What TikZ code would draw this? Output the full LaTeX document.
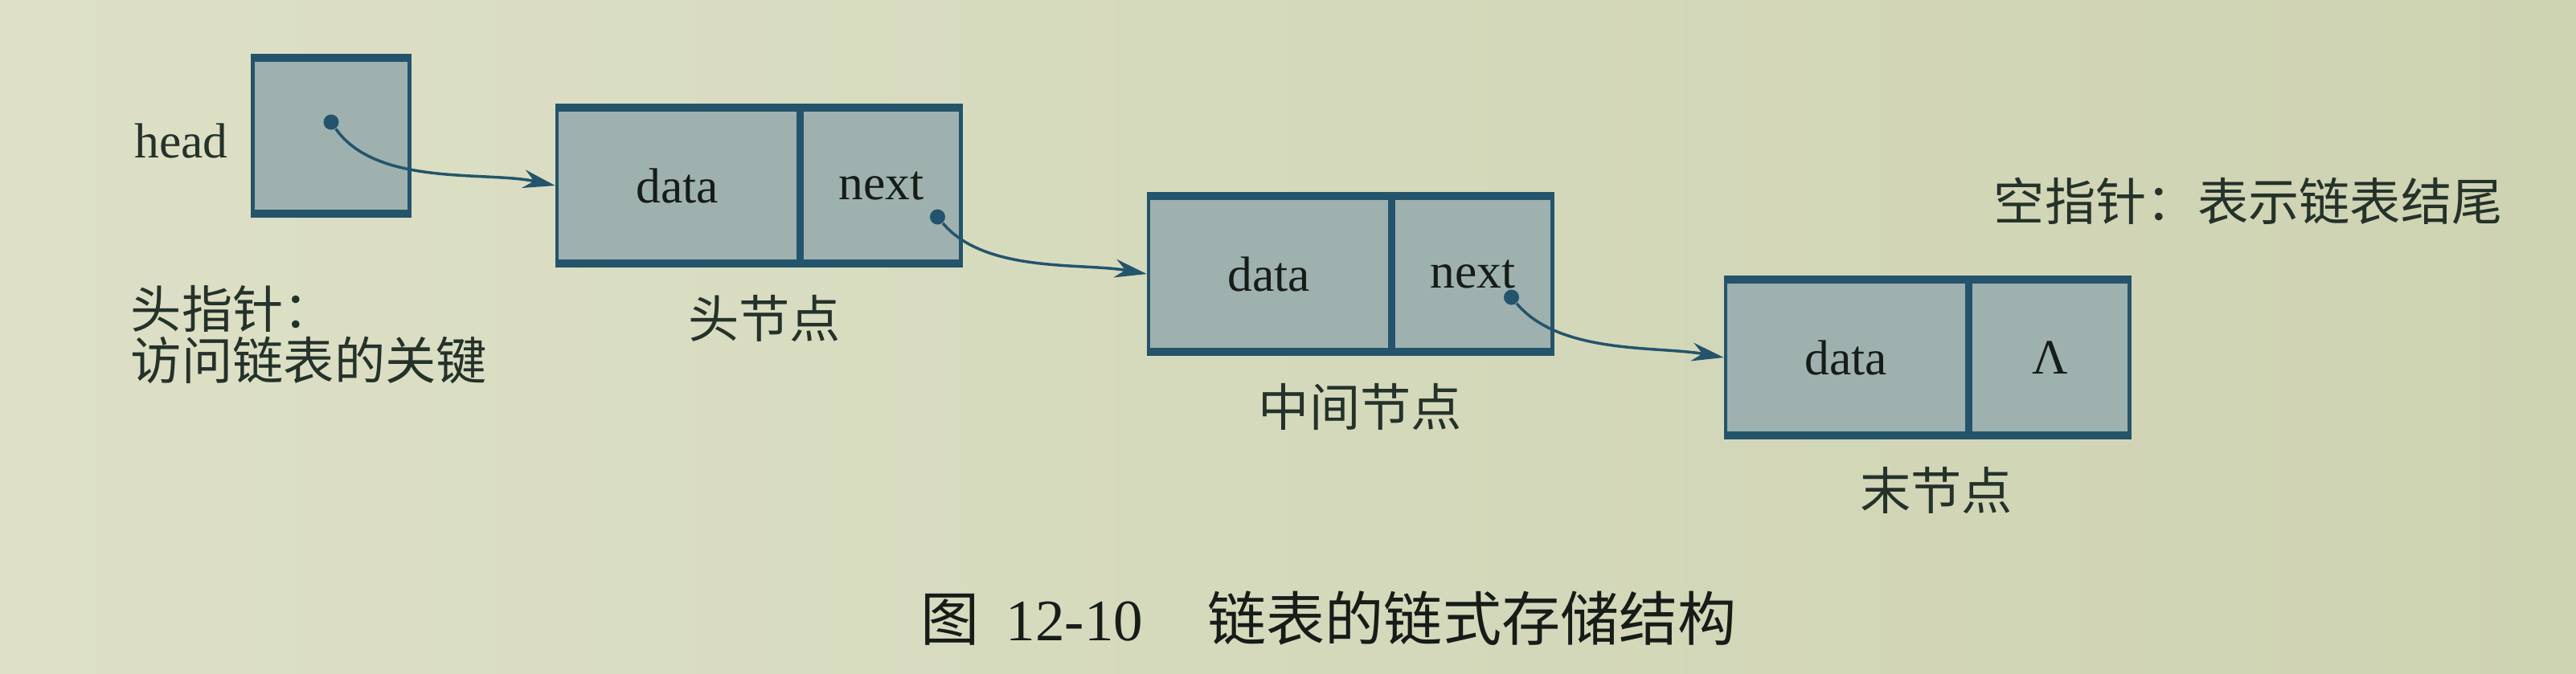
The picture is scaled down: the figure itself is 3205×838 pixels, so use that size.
\documentclass[tikz,border=0pt]{standalone}
\usepackage{fontspec}
\setmainfont{Liberation Serif}
\newfontfamily\cjk{Noto Sans CJK SC}
\usepackage{xcolor}
\usepackage{tikz}
\usetikzlibrary{positioning,arrows.meta}

\definecolor{paperleft}{RGB}{221,224,198}
\definecolor{paperright}{RGB}{206,211,178}
\definecolor{cellfill}{RGB}{158,177,175}
\definecolor{cellline}{RGB}{36,84,108}
\definecolor{ink}{RGB}{22,28,24}
\definecolor{labelink}{RGB}{36,50,42}

\newcommand{\latinfont}{\fontsize{17.5}{21}\selectfont}
\newcommand{\cjklabel}{\cjk\fontsize{18}{18.2}\selectfont}
\newcommand{\capfont}{\fontsize{20.8}{25}\selectfont}

\tikzset{
  cell/.style={draw=cellline, line width=0.45mm, fill=cellfill, minimum height=19mm,
    inner sep=0pt, text=ink, font=\latinfont},
  datacell/.style={cell, minimum width=30mm},
  ptrcell/.style={cell, minimum width=19.8mm},
  rim/.style={cellline, line width=1mm},
  ptr/.style={circle, fill=cellline, inner sep=0pt, minimum size=1.9mm},
  link/.style={-{Stealth[length=4mm, width=2.3mm, inset=1.3mm]}, cellline, line width=0.35mm},
  tag/.style={font=\cjklabel, text=labelink, inner sep=0pt}
}

\begin{document}
\begin{tikzpicture}[x=0.1mm, y=0.1mm]
    \shade [left color=paperleft, right color=paperright] (0,0) rectangle (3205,-838);
    \useasboundingbox (0,0) rectangle (3205,-838);

    % head pointer
    \node [cell, minimum width=19.5mm] (hbox) at (412,-169) {};
    \node [tag, font=\latinfont, left=2.8mm of hbox, yshift=-0.6mm] (headtxt) {head};
    \node [ptr] (hdot) at ([yshift=1.7mm]hbox.center) {};
    \node [tag, align=left, anchor=west] (headnote) at ([xshift=-15mm, yshift=-15mm]hbox.south west)
        {头指针：\\访问链表的关键};

    % first node
    \node [datacell] (n1d) at (843,-231) {data};
    \node [ptrcell, right=0pt of n1d] (n1n) {next};
    \node [ptr] (p1) at ([xshift=7mm, yshift=-3.9mm]n1n.center) {};
    \node [tag, below=3.8mm of n1d.south east, xshift=-4.4mm] (lab1) {头节点};

    % middle node
    \node [datacell] (n2d) at (1579,-341) {data};
    \node [ptrcell, right=0pt of n2d] (n2n) {next};
    \node [ptr] (p2) at ([xshift=4.8mm, yshift=-2.9mm]n2n.center) {};
    \node [tag, below=3.8mm of n2d.south east, xshift=-3.9mm] (lab2) {中间节点};

    % last node
    \node [datacell] (n3d) at (2297,-445) {data};
    \node [ptrcell, right=0pt of n3d] (n3n) {Λ};
    \node [tag, below=3.8mm of n3d.south east, xshift=-4mm] (lab3) {末节点};
    \node [tag, anchor=west] (nulltxt) at ([xshift=3.1mm, yshift=9.7mm]n3n.north west) {空指针：表示链表结尾};

    % thick rims
    \draw [rim] (hbox.north west) -- (hbox.north east);
    \draw [rim] (hbox.south west) -- (hbox.south east);
    \draw [rim] (n1d.north west) -- (n1n.north east);
    \draw [rim] (n1d.south west) -- (n1n.south east);
    \draw [rim] (n2d.north west) -- (n2n.north east);
    \draw [rim] (n2d.south west) -- (n2n.south east);
    \draw [rim] (n3d.north west) -- (n3n.north east);
    \draw [rim] (n3d.south west) -- (n3n.south east);

    % links
    \draw [link] (hdot) to [out=-55, in=168, looseness=0.8] (n1d.west);
    \draw [link] (p1) to [out=-50, in=170, looseness=0.8] (n2d.west);
    \draw [link] (p2) to [out=-50, in=170, looseness=0.8] (n3d.west);

    % caption
    \node [anchor=west, inner sep=0pt, text=ink, font=\capfont] (caption) at (1145,-770)
        {{\cjk 图}\hspace{0.45em}12-10\hspace{1.1em}{\cjk 链表的链式存储结构}};
\end{tikzpicture}
\end{document}
